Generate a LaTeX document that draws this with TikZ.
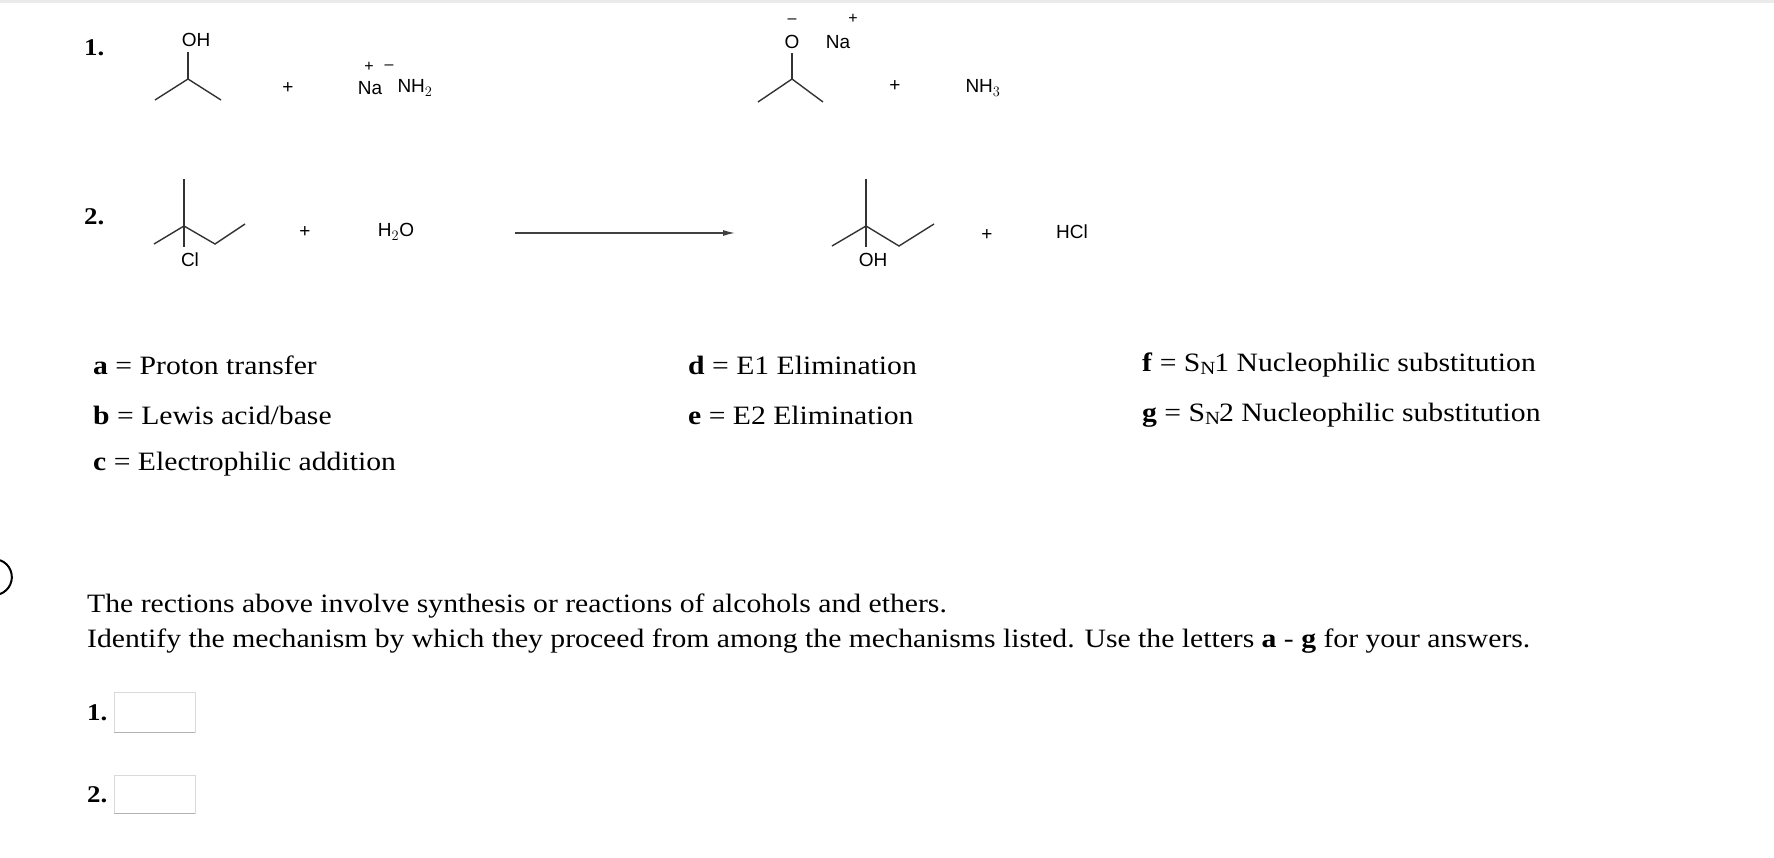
\documentclass[tikz,border=0pt]{standalone}
\usepackage{fontspec}
\usetikzlibrary{arrows.meta}
\setmainfont[FakeStretch=1.12]{Liberation Serif}
\newfontfamily\chemf{Liberation Sans}
\begin{document}
\begin{tikzpicture}[x=1pt,y=-1pt,
  bond/.style={line width=1.4pt,black!80},
  chem/.style={font=\chemf\fontsize{19}{21}\selectfont,inner sep=0pt},
  chg/.style={font=\chemf\fontsize{16}{16}\selectfont,inner sep=0pt},
  txt/.style={font=\fontsize{26.5}{30}\selectfont,inner sep=0pt,anchor=base west},
  num/.style={font=\bfseries\fontsize{24}{28}\selectfont,inner sep=0pt,anchor=base west},
  ansbox/.style={draw=black!15,line width=1pt}]
\useasboundingbox (0,0) rectangle (1774,858);
\fill[black!8] (0,0) rectangle (1774,3);
% reaction 1
\node[num] (n1) at (84,56) {1.};
\coordinate (c1) at (188,79);
\coordinate (c1l) at (155,100);
\coordinate (c1r) at (221,100);
\node[chem] (oh1) at (196,40) {OH};
\draw[bond] (c1l) -- (c1) -- (c1r);
\draw[bond] (c1) -- (188,52);
\node[chem] (p1) at (288,88) {+};
\node[chem] (na1) at (370,88) {Na};
\node[chem] (nh2) at (415,88) {NH$_2$};
\node[chg] (na1c) at (369,67) {+};
\node[chg] (nh2c) at (389,67) {\textendash};
\node[chem] (o2) at (792,42) {O};
\node[chg] (o2c) at (792,21) {\textendash};
\node[chem] (na2) at (838,42) {Na};
\node[chg] (na2c) at (853,19) {+};
\coordinate (c2) at (792,79);
\draw[bond] (758,102) -- (c2) -- (823,102);
\draw[bond] (c2) -- (792,53);
\node[chem] (p2) at (895,86) {+};
\node[chem] (nh3) at (983,88) {NH$_3$};
% reaction 2
\node[num] (n2) at (84,225) {2.};
\coordinate (c3) at (184,226);
\draw[bond] (184,179) -- (c3) -- (184,247);
\draw[bond] (154,244) -- (c3) -- (215,244) -- (245,224);
\node[chem] (cl) at (190,260) {Cl};
\node[chem] (p3) at (305,232) {+};
\node[chem] (h2o) at (396,232) {H$_2$O};
\coordinate (a1) at (515,233);
\coordinate (a2) at (735,233);
\draw[line width=1.3pt,black!75,-{Latex[length=12pt,width=6pt]}] (a1) -- (a2);
\coordinate (c4) at (866,226);
\draw[bond] (866,179) -- (c4) -- (866,247);
\draw[bond] (832,246) -- (c4) -- (899,246) -- (934,224);
\node[chem] (oh2) at (873,260) {OH};
\node[chem] (p4) at (987,235) {+};
\node[chem] (hcl) at (1072,232) {HCl};
% legend
\node[txt] (la) at (93,374) {\textbf{a} = Proton transfer};
\node[txt] (lb) at (93,424) {\textbf{b} = Lewis acid/base};
\node[txt] (lc) at (93,470) {\textbf{c} = Electrophilic addition};
\node[txt] (ld) at (688,374) {\textbf{d} = E1 Elimination};
\node[txt] (le) at (688,424) {\textbf{e} = E2 Elimination};
\node[txt] (lf) at (1142,371) {\textbf{f} = S$_{\mathrm{N}}$1 Nucleophilic substitution};
\node[txt] (lg) at (1142,421) {\textbf{g} = S$_{\mathrm{N}}$2 Nucleophilic substitution};
% question
\draw[line width=2pt] (0,594) arc[start angle=70,end angle=-70,radius=18];
\node[txt] (q1) at (87,612) {The rections above involve synthesis or reactions of alcohols and ethers.};
\node[txt] (q2) at (87,647) {Identify the mechanism by which they proceed from among the mechanisms listed. Use the letters \textbf{a} - \textbf{g} for your answers.};
\node[num] (a1n) at (87,720) {1.};
\draw[ansbox] (114,692) rectangle (195,732);
\draw[black!30,line width=1pt] (114,732) -- (195,732);
\node[num] (a2n) at (87,802) {2.};
\draw[ansbox] (114,775) rectangle (195,813);
\draw[black!30,line width=1pt] (114,813) -- (195,813);
\end{tikzpicture}
\end{document}
